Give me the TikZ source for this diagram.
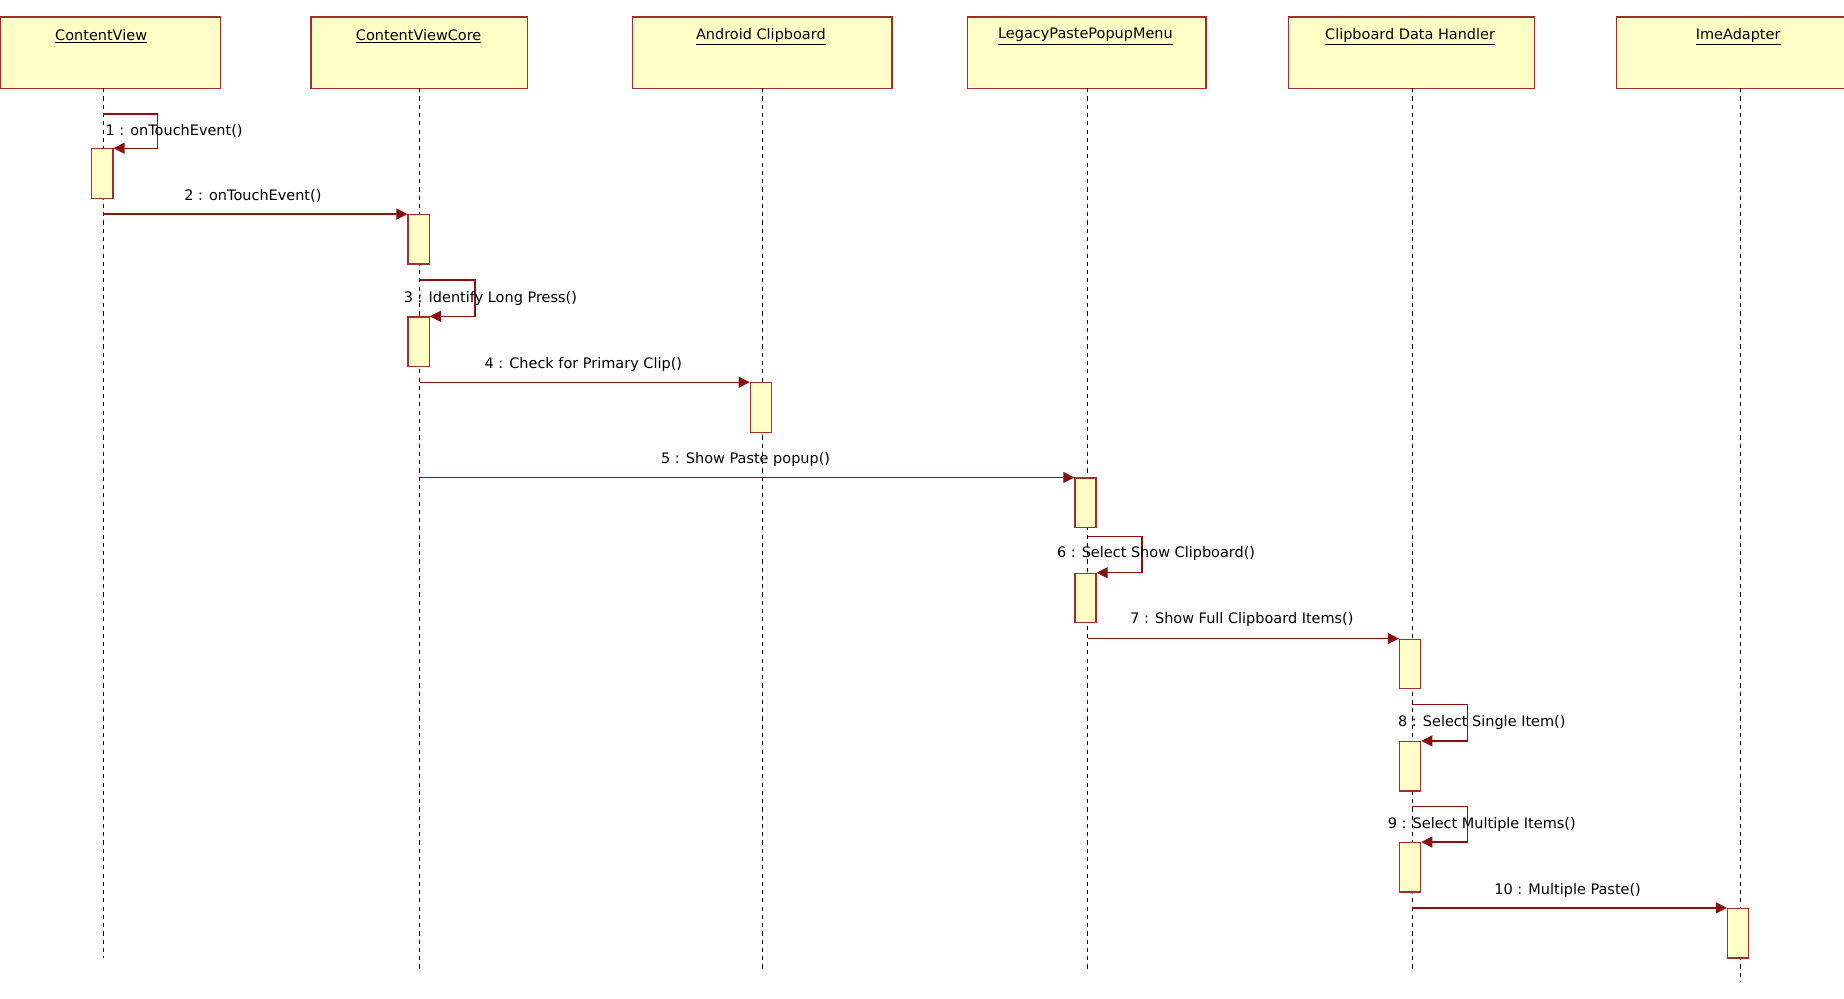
\documentclass[tikz,border=0pt]{standalone}
\usepackage{fontspec}
\setmainfont{DejaVu Sans}
\usetikzlibrary{arrows.meta}
\definecolor{boxfill}{HTML}{FFFFC6}
\definecolor{boxline}{HTML}{A0302E}
\definecolor{msgline}{HTML}{8B1010}
\tikzset{
  head/.style={draw=boxline, fill=boxfill, line width=0.9pt, anchor=north west, align=center},
  act/.style={draw=boxline, fill=boxfill, line width=0.9pt, minimum width=0.54cm, minimum height=1.26cm, inner sep=0pt, anchor=north},
  life/.style={dashed, line width=0.8pt, dash pattern=on 3pt off 3pt},
  msg/.style={draw=msgline, line width=0.9pt, -{Triangle[length=8pt,width=8pt]}},
  lbl/.style={font=\fontsize{10.5pt}{12pt}\selectfont, inner sep=0pt}
}
\newcommand{\hd}[1]{\fontsize{10.5pt}{12pt}\selectfont\underline{#1}}
\begin{document}
\begin{tikzpicture}[x=0.03cm,y=-0.03cm]
          \useasboundingbox (0,0) rectangle (1568,849);
          %% heads
          \node[head, minimum width=5.61cm, minimum height=1.83cm] (cv)   at (0,14) {};
          \node[head, minimum width=5.52cm, minimum height=1.83cm] (cvc)  at (264,14) {};
          \node[head, minimum width=6.63cm, minimum height=1.83cm] (ac)   at (537,14) {};
          \node[head, minimum width=6.09cm, minimum height=1.83cm] (lppm) at (822,14) {};
          \node[head, minimum width=6.27cm, minimum height=1.83cm] (cdh)  at (1095,14) {};
          \node[head, minimum width=6.00cm, minimum height=1.83cm] (ime)  at (1374,14) {};
          \node (cvT)   at (86,31)   {\hd{ContentView}};
          \node (cvcT)  at (356,31)  {\hd{ContentViewCore}};
          \node (acT)   at (647,31)  {\hd{Android Clipboard}};
          \node (lppmT) at (923,31)  {\hd{LegacyPastePopupMenu}};
          \node (cdhT)  at (1199,31) {\hd{Clipboard Data Handler}};
          \node (imeT)  at (1478,31) {\hd{ImeAdapter}};
          %% lifelines
          \coordinate (cvE)   at (88,815);
          \coordinate (cvcE)  at (357,825);
          \coordinate (acE)   at (648,825);
          \coordinate (lppmE) at (925,825);
          \coordinate (cdhE)  at (1201,825);
          \coordinate (imeE)  at (1480,835);
          \draw[life] (88,75) coordinate (cvS) -- (cvE);
          \draw[life] (357,75) coordinate (cvcS) -- (cvcE);
          \draw[life] (648,75) coordinate (acS) -- (acE);
          \draw[life] (925,75) coordinate (lppmS) -- (lppmE);
          \draw[life] (1201,75) coordinate (cdhS) -- (cdhE);
          \draw[life] (1480,75) coordinate (imeS) -- (imeE);
          %% activations
          \node[act] (a1)  at (87,126)   {};
          \node[act] (a2)  at (356,182)  {};
          \node[act] (a3)  at (356,269)  {};
          \node[act] (a4)  at (647,325)  {};
          \node[act] (a5)  at (923,406)  {};
          \node[act] (a6)  at (923,487)  {};
          \node[act] (a7)  at (1199,543) {};
          \node[act] (a8)  at (1199,630) {};
          \node[act] (a9)  at (1199,716) {};
          \node[act] (a10) at (1478,772) {};
          %% messages
          \coordinate (s1) at (88,97);
          \coordinate (s3) at (357,238);
          \coordinate (s6) at (925,456);
          \coordinate (s8) at (1201,599);
          \coordinate (s9) at (1201,686);
          \coordinate (m2) at (88,182);
          \coordinate (m4) at (357,325);
          \coordinate (m5) at (357,406);
          \coordinate (m7) at (925,543);
          \coordinate (m10) at (1201,772);
          \draw[msg] (s1) -- ++(46,0) |- (a1.north east);
          \draw[msg] (m2) -- (a2.north west);
          \draw[msg] (s3) -- ++(47,0) |- (a3.north east);
          \draw[msg] (m4) -- (a4.north west);
          \draw[msg] (m5) -- (a5.north west);
          \draw[msg] (s6) -- ++(46,0) |- (a6.north east);
          \draw[msg] (m7) -- (a7.north west);
          \draw[msg] (s8) -- ++(47,0) |- (a8.north east);
          \draw[msg] (s9) -- ++(47,0) |- (a9.north east);
          \draw[msg] (m10) -- (a10.north west);
          %% labels
          \node[lbl] (l1)  at (148,111)  {1 : onTouchEvent()};
          \node[lbl] (l2)  at (215,167)  {2 : onTouchEvent()};
          \node[lbl] (l3)  at (417,254)  {3 : Identify Long Press()};
          \node[lbl] (l4)  at (496,310)  {4 : Check for Primary Clip()};
          \node[lbl] (l5)  at (634,391)  {5 : Show Paste popup()};
          \node[lbl] (l6)  at (983,471)  {6 : Select Show Clipboard()};
          \node[lbl] (l7)  at (1056,527) {7 : Show Full Clipboard Items()};
          \node[lbl] (l8)  at (1260,614) {8 : Select Single Item()};
          \node[lbl] (l9)  at (1260,701) {9 : Select Multiple Items()};
          \node[lbl] (l10) at (1333,757) {10 : Multiple Paste()};
        \end{tikzpicture}
\end{document}
